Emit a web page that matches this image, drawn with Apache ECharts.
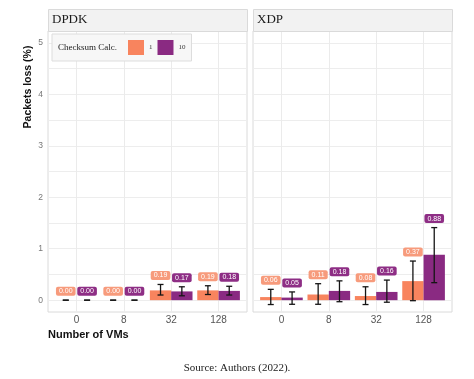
<!DOCTYPE html>
<html><head><meta charset="utf-8">
<script src="https://cdn.jsdelivr.net/npm/echarts@6/dist/echarts.min.js"></script>
<style>html,body{margin:0;padding:0;background:#fff}#c{width:474px;height:379px}</style>
</head><body><div id="c"></div>
<script>
const categories = ['0', '8', '32', '128'];
const panels = ['DPDK', 'XDP'];
const groups = ['1', '10'];
const yTicks = [0, 1, 2, 3, 4, 5];
const yGrid = [0, 0.5, 1, 1.5, 2, 2.5, 3, 3.5, 4, 4.5, 5];

const dpdk1 = [0.00, 0.00, 0.19, 0.19];
const dpdk1Lo = [0, 0, 0.10, 0.11];
const dpdk1Hi = [0, 0, 0.305, 0.28];
const dpdk10 = [0.00, 0.00, 0.17, 0.18];
const dpdk10Lo = [0, 0, 0.085, 0.10];
const dpdk10Hi = [0, 0, 0.26, 0.27];
const xdp1 = [0.06, 0.11, 0.08, 0.37];
const xdp1Lo = [-0.085, -0.08, -0.085, -0.01];
const xdp1Hi = [0.21, 0.32, 0.26, 0.76];
const xdp10 = [0.05, 0.18, 0.16, 0.88];
const xdp10Lo = [-0.08, -0.03, -0.04, 0.34];
const xdp10Hi = [0.16, 0.375, 0.39, 1.41];

const ORANGE = '#F8845E', PURPLE = '#8A2A82';
const ORANGE_LBL = '#F79B7C', PURPLE_LBL = '#8E2E85';

function rows(v, lo, hi) { return v.map((d, i) => [i, d, lo[i], hi[i]]); }

function makeRender(side, color, lblColor) {
  return function (params, api) {
    const i = api.value(0), v = api.value(1), lo = api.value(2), hi = api.value(3);
    const cx = i + side * 0.225;
    const a = api.coord([cx - 0.225, v]);
    const b = api.coord([cx + 0.225, 0]);
    const c = api.coord([cx, hi]);
    const d = api.coord([cx, lo]);
    const ch = [];
    if (Math.abs(b[1] - a[1]) > 0.01) {
      ch.push({ type: 'rect', shape: { x: a[0], y: Math.min(a[1], b[1]), width: b[0] - a[0], height: Math.abs(b[1] - a[1]) }, style: { fill: color } });
    }
    const ls = { stroke: '#151515', lineWidth: 1.3 };
    ch.push({ type: 'line', shape: { x1: c[0], y1: c[1], x2: d[0], y2: d[1] }, style: ls });
    ch.push({ type: 'line', shape: { x1: c[0] - 3, y1: c[1], x2: c[0] + 3, y2: c[1] }, style: ls });
    ch.push({ type: 'line', shape: { x1: d[0] - 3, y1: d[1], x2: d[0] + 3, y2: d[1] }, style: ls });
    ch.push({ type: 'text', x: c[0], y: c[1] - 9, z2: 10, style: {
      text: v.toFixed(2), fill: '#fff', fontSize: 7, fontFamily: 'Liberation Sans',
      backgroundColor: lblColor, padding: [1, 3, 1, 3], borderRadius: 2,
      align: 'center', verticalAlign: 'middle' } });
    return { type: 'group', children: ch };
  };
}

const chart = echarts.init(document.getElementById('c'), null, { renderer: 'canvas' });
const gridLeft = [48, 253];
const grids = gridLeft.map(l => ({ left: l, top: 31, width: 199, height: 281, show: true, borderColor: '#DADADA', borderWidth: 1, backgroundColor: '#fff', containLabel: false }));
const xAxes = [0, 1].map(k => ({
  type: 'value', gridIndex: k, min: -0.6, max: 3.6,
  axisLine: { show: false }, axisTick: { show: false, customValues: [0, 1, 2, 3] },
  axisLabel: { customValues: [0, 1, 2, 3], formatter: v => categories[Math.round(v)], color: '#555', fontSize: 10, fontFamily: 'Liberation Sans', margin: 3 },
  splitLine: { show: true, lineStyle: { color: '#EBEBEB', width: 1 } }
}));
const yAxes = [0, 1].map(k => ({
  type: 'value', gridIndex: k, min: -0.23, max: 5.23,
  axisLine: { show: false }, axisTick: { show: false, customValues: yGrid },
  axisLabel: { show: k === 0, customValues: yTicks, color: '#777', fontSize: 8.5, fontFamily: 'Liberation Sans', margin: 5 },
  splitLine: { show: true, lineStyle: { color: '#EDEDED', width: 1 } }
}));

const seriesDefs = [
  [0, 0, dpdk1, dpdk1Lo, dpdk1Hi], [0, 1, dpdk10, dpdk10Lo, dpdk10Hi],
  [1, 0, xdp1, xdp1Lo, xdp1Hi], [1, 1, xdp10, xdp10Lo, xdp10Hi]
];
const series = seriesDefs.map(([p, g, v, lo, hi]) => ({
  type: 'custom', name: groups[g], xAxisIndex: p, yAxisIndex: p,
  itemStyle: { color: g === 0 ? ORANGE : PURPLE },
  renderItem: makeRender(g === 0 ? -1 : 1, g === 0 ? ORANGE : PURPLE, g === 0 ? ORANGE_LBL : PURPLE_LBL),
  data: rows(v, lo, hi), clip: false, z: 3
}));

const graphic = [];
panels.forEach((name, k) => {
  graphic.push({ type: 'rect', left: gridLeft[k], top: 9, shape: { width: 199, height: 22 }, style: { fill: '#F2F2F2', stroke: '#DADADA', lineWidth: 1 }, z: 50 });
  graphic.push({ type: 'text', x: gridLeft[k] + 4, y: 20, style: { text: name, fontFamily: 'Liberation Serif', fontSize: 13, fill: '#1A1A1A', verticalAlign: 'middle' }, z: 51 });
});
graphic.push({ type: 'text', x: 58, y: 48, style: { text: 'Checksum Calc.', fontFamily: 'Liberation Serif', fontSize: 9, fill: '#222', verticalAlign: 'middle' }, z: 100 });
graphic.push({ type: 'text', x: 28, y: 87, rotation: Math.PI / 2, style: { text: 'Packets loss (%)', fontFamily: 'Liberation Sans', fontWeight: 'bold', fontSize: 10.5, fill: '#111', align: 'center', verticalAlign: 'middle' }, z: 100 });
graphic.push({ type: 'text', x: 48, y: 335, style: { text: 'Number of VMs', fontFamily: 'Liberation Sans', fontWeight: 'bold', fontSize: 11, fill: '#111', verticalAlign: 'middle' }, z: 100 });
graphic.push({ type: 'text', x: 237, y: 368, style: { text: 'Source: Authors (2022).', fontFamily: 'Liberation Serif', fontSize: 11, fill: '#222', align: 'center', verticalAlign: 'middle' }, z: 100 });

chart.setOption({
  animation: false,
  backgroundColor: '#fff',
  grid: grids, xAxis: xAxes, yAxis: yAxes, series,
  legend: {
    left: 52, top: 34, orient: 'horizontal', icon: 'rect',
    data: [{ name: '1', itemStyle: { color: ORANGE } }, { name: '10', itemStyle: { color: PURPLE } }],
    itemWidth: 16, itemHeight: 15, itemGap: 5,
    padding: [6, 6, 6, 76],
    backgroundColor: '#F7F7F7', borderColor: '#DDDDDD', borderWidth: 1,
    textStyle: { fontFamily: 'Liberation Serif', fontSize: 7, color: '#333' },
    selectedMode: false
  },
  graphic
});
</script></body></html>
